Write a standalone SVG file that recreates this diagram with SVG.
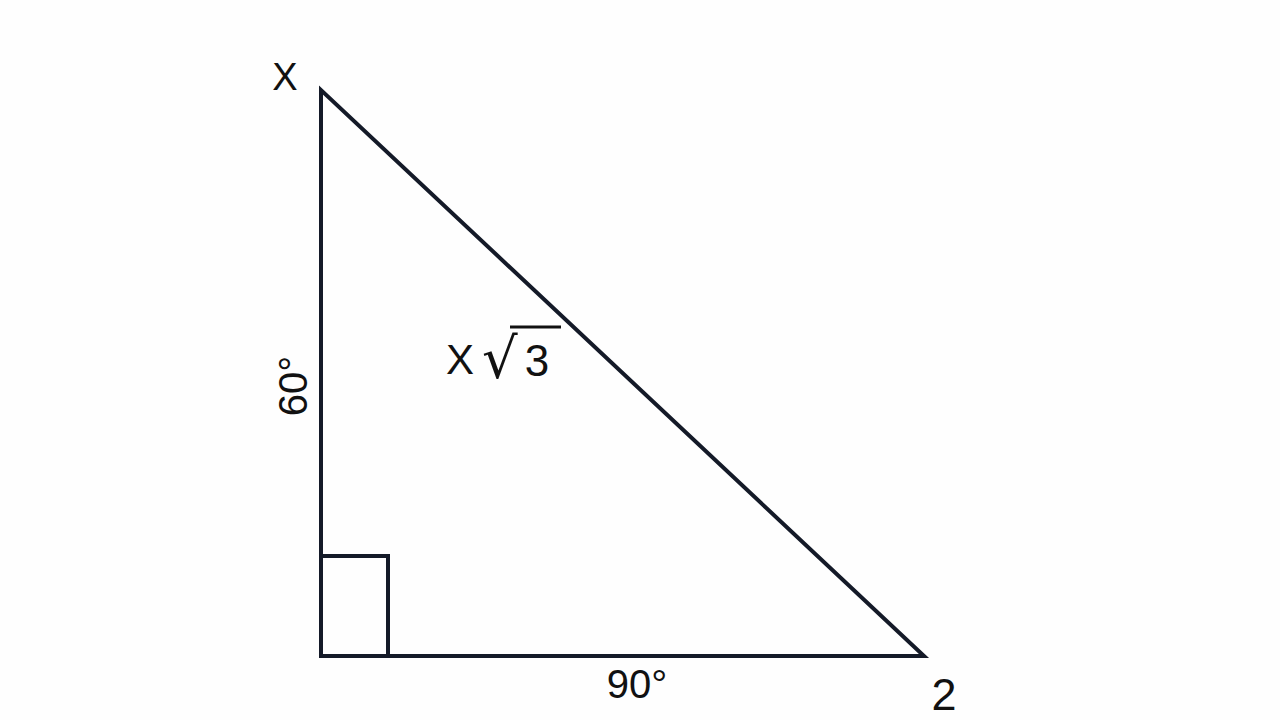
<svg xmlns="http://www.w3.org/2000/svg" width="1280" height="720" viewBox="0 0 1280 720">
<style>
.t{font-family:"Liberation Sans","Noto Sans",sans-serif;fill:#111;}
.s{fill:none;stroke:#141a28;stroke-width:4;stroke-linejoin:miter;}
</style>
<rect width="1280" height="720" fill="#fefefe"/>
<g id="connectors">
<polygon class="s" points="321,90 321,656 924,656"/>
<polyline class="s" points="321,556 388,556 388,656"/>
</g>
<g id="labels">
<text class="t" x="285" y="90" font-size="38" text-anchor="middle">X</text>
<text class="t" x="460" y="374" font-size="42" text-anchor="middle">X</text>
<text x="482" y="378" font-size="56" style="font-family:'DejaVu Sans',sans-serif;fill:#111">√</text>
<line x1="510" y1="327" x2="561" y2="327" stroke="#111" stroke-width="3"/>
<text class="t" x="537" y="376" font-size="44" text-anchor="middle">3</text>
<text class="t" transform="translate(307,386) rotate(-90)" font-size="40" text-anchor="middle">60°</text>
<text class="t" x="637" y="698" font-size="40" text-anchor="middle">90°</text>
<text class="t" x="944" y="710" font-size="45" text-anchor="middle">2</text>
</g>
</svg>
